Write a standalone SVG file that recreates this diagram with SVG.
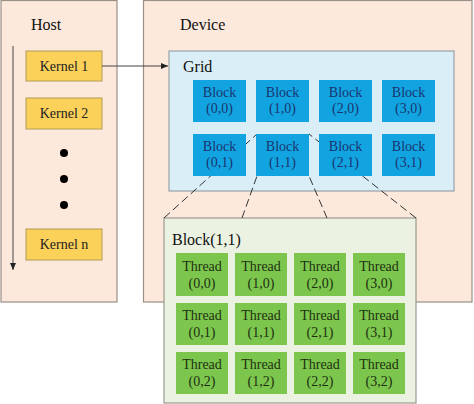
<svg xmlns="http://www.w3.org/2000/svg" width="474" height="404" viewBox="0 0 474 404" font-family="'Liberation Serif', 'Times New Roman', serif">
<defs>
<marker id="ah" markerWidth="8" markerHeight="8" refX="7" refY="4" orient="auto" markerUnits="userSpaceOnUse">
<path d="M0,1 L7,4 L0,7 Z" fill="#222"/>
</marker>
<style>
text{font-family:'Liberation Serif','Times New Roman',serif}
.panel{fill:#fce9dc;stroke:#9a9088;stroke-width:1.2}
.kern{fill:#fbd15a;stroke:#b09a55;stroke-width:1}
.blk{fill:#12a4e0}
.thr{fill:#7dc64e}
.lbl{font-size:16px;fill:#111}
.bt{font-size:14px;fill:#1a3570}
.tt{font-size:14px;fill:#1c3010}
.kt{font-size:14px;fill:#222}
.dash{stroke:#333;stroke-width:1;stroke-dasharray:8,4;fill:none}
</style>
</defs>
<rect width="474" height="404" fill="#fff"/>
<g id="host">
<rect class="panel" x="1" y="0.5" width="116" height="301.5"/>
<text class="lbl" x="31" y="30">Host</text>
</g>
<g id="device">
<rect class="panel" x="143.5" y="0.5" width="328.5" height="301.5"/>
<text class="lbl" x="180" y="30">Device</text>
</g>
<g id="kernel1"><rect class="kern" x="26" y="51" width="76" height="30"/><text class="kt" x="39.7" y="71">Kernel 1</text></g>
<g id="kernel2"><rect class="kern" x="26" y="98" width="76" height="31"/><text class="kt" x="39.7" y="118">Kernel 2</text></g>
<g id="dots"><circle cx="64" cy="153" r="4" fill="#000"/><circle cx="64" cy="179" r="4" fill="#000"/><circle cx="64" cy="205" r="4" fill="#000"/></g>
<g id="kerneln"><rect class="kern" x="26" y="229" width="76" height="31"/><text class="kt" x="39.7" y="249">Kernel n</text></g>
<g id="grid">
<rect x="169" y="51" width="285" height="140" fill="#d9eef6" stroke="#9aa2a8" stroke-width="1.2"/>
<text class="lbl" x="183" y="72">Grid</text>
</g>
<g id="blockpanel">
<rect x="164" y="218" width="252" height="185" fill="#ebf2e1" stroke="#9a9a90" stroke-width="1.2"/>
<text class="lbl" x="172" y="245">Block(1,1)</text>
</g>
<g id="connectors">
<line x1="13" y1="46" x2="13" y2="270" stroke="#444" stroke-width="1" marker-end="url(#ah)"/>
<line x1="102" y1="66" x2="168" y2="66" stroke="#444" stroke-width="1" marker-end="url(#ah)"/>
<line class="dash" x1="164" y1="218" x2="257" y2="134"/>
<line class="dash" x1="242" y1="218" x2="257" y2="176"/>
<line class="dash" x1="327" y1="218" x2="309" y2="176"/>
<line class="dash" x1="416" y1="218" x2="309" y2="134"/>
</g>
<g id="blocks">
<g id="b00"><rect class="blk" x="193" y="80" width="53" height="42"/><text class="bt" x="202.8" y="97">Block</text><text class="bt" x="206.1" y="113">(0,0)</text></g>
<g id="b10"><rect class="blk" x="256" y="80" width="53" height="42"/><text class="bt" x="265.8" y="97">Block</text><text class="bt" x="269.1" y="113">(1,0)</text></g>
<g id="b20"><rect class="blk" x="319" y="80" width="53" height="42"/><text class="bt" x="328.8" y="97">Block</text><text class="bt" x="332.1" y="113">(2,0)</text></g>
<g id="b30"><rect class="blk" x="382" y="80" width="53" height="42"/><text class="bt" x="391.8" y="97">Block</text><text class="bt" x="395.1" y="113">(3,0)</text></g>
<g id="b01"><rect class="blk" x="193" y="134" width="53" height="42"/><text class="bt" x="202.8" y="151">Block</text><text class="bt" x="206.1" y="167">(0,1)</text></g>
<g id="b11"><rect class="blk" x="256" y="134" width="53" height="42"/><text class="bt" x="265.8" y="151">Block</text><text class="bt" x="269.1" y="167">(1,1)</text></g>
<g id="b21"><rect class="blk" x="319" y="134" width="53" height="42"/><text class="bt" x="328.8" y="151">Block</text><text class="bt" x="332.1" y="167">(2,1)</text></g>
<g id="b31"><rect class="blk" x="382" y="134" width="53" height="42"/><text class="bt" x="391.8" y="151">Block</text><text class="bt" x="395.1" y="167">(3,1)</text></g>
</g>
<g id="threads">
<g id="t00"><rect class="thr" x="176" y="253" width="52" height="43"/><text class="tt" x="182.2" y="271">Thread</text><text class="tt" x="188.6" y="288">(0,0)</text></g>
<g id="t10"><rect class="thr" x="235" y="253" width="52" height="43"/><text class="tt" x="241.2" y="271">Thread</text><text class="tt" x="247.6" y="288">(1,0)</text></g>
<g id="t20"><rect class="thr" x="294" y="253" width="52" height="43"/><text class="tt" x="300.2" y="271">Thread</text><text class="tt" x="306.6" y="288">(2,0)</text></g>
<g id="t30"><rect class="thr" x="353" y="253" width="52" height="43"/><text class="tt" x="359.2" y="271">Thread</text><text class="tt" x="365.6" y="288">(3,0)</text></g>
<g id="t01"><rect class="thr" x="176" y="303" width="52" height="42"/><text class="tt" x="182.2" y="320">Thread</text><text class="tt" x="188.6" y="337">(0,1)</text></g>
<g id="t11"><rect class="thr" x="235" y="303" width="52" height="42"/><text class="tt" x="241.2" y="320">Thread</text><text class="tt" x="247.6" y="337">(1,1)</text></g>
<g id="t21"><rect class="thr" x="294" y="303" width="52" height="42"/><text class="tt" x="300.2" y="320">Thread</text><text class="tt" x="306.6" y="337">(2,1)</text></g>
<g id="t31"><rect class="thr" x="353" y="303" width="52" height="42"/><text class="tt" x="359.2" y="320">Thread</text><text class="tt" x="365.6" y="337">(3,1)</text></g>
<g id="t02"><rect class="thr" x="176" y="352" width="52" height="42"/><text class="tt" x="182.2" y="369">Thread</text><text class="tt" x="188.6" y="386">(0,2)</text></g>
<g id="t12"><rect class="thr" x="235" y="352" width="52" height="42"/><text class="tt" x="241.2" y="369">Thread</text><text class="tt" x="247.6" y="386">(1,2)</text></g>
<g id="t22"><rect class="thr" x="294" y="352" width="52" height="42"/><text class="tt" x="300.2" y="369">Thread</text><text class="tt" x="306.6" y="386">(2,2)</text></g>
<g id="t32"><rect class="thr" x="353" y="352" width="52" height="42"/><text class="tt" x="359.2" y="369">Thread</text><text class="tt" x="365.6" y="386">(3,2)</text></g>
</g>
</svg>
